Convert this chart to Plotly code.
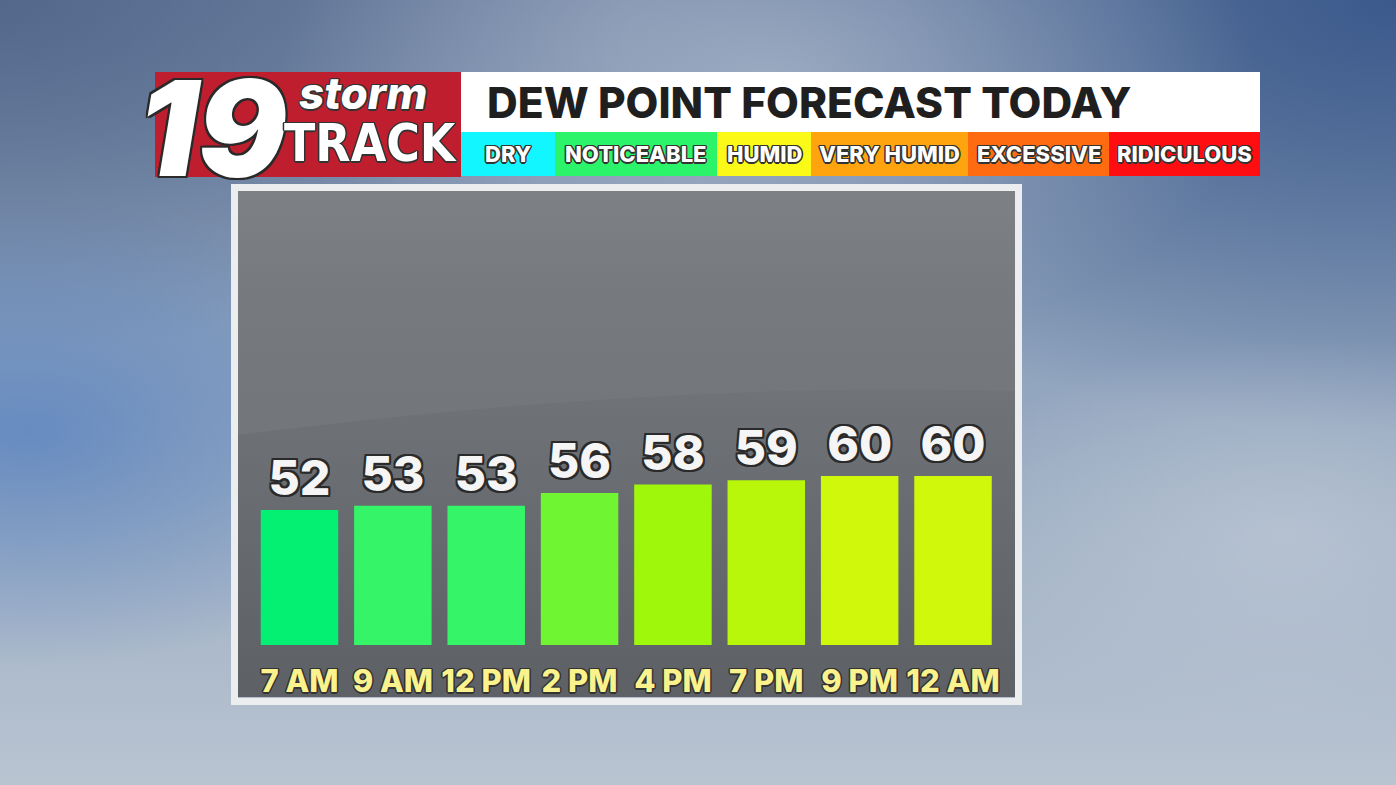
import base64
import plotly.graph_objects as go

W, H = 1396, 785

# data
TIMES = ["7 AM", "9 AM", "12 PM", "2 PM", "4 PM", "7 PM", "9 PM", "12 AM"]
DEW_POINTS = [52, 53, 53, 56, 58, 59, 60, 60]
CATEGORIES = ["DRY", "NOTICEABLE", "HUMID", "VERY HUMID", "EXCESSIVE", "RIDICULOUS"]

# styles
BAR_COLORS = ["#03f072", "#35f468", "#35f468", "#70f533", "#9ff80c", "#b9f70a", "#cff80a", "#cff80a"]
CAT_COLORS = ["#12f7ff", "#2bf36a", "#fbf917", "#ffa40e", "#ff6b10", "#ff0d10"]
CAT_EDGES = [461, 555, 717, 811, 968, 1109, 1260]

OUTLINE = ("-2px -2px 0 #2a2a2a, 2px -2px 0 #2a2a2a, -2px 2px 0 #2a2a2a, "
           "2px 2px 0 #2a2a2a, 0 2px 0 #2a2a2a, 0 -2px 0 #2a2a2a, 2px 0 0 #2a2a2a, -2px 0 0 #2a2a2a")
THIN = ("-1px -1px 0 #333, 1px -1px 0 #333, -1px 1px 0 #333, 1px 1px 0 #333, "
        "0 1.5px 0 #333, 0 -1.5px 0 #333, 1.5px 0 0 #333, -1.5px 0 0 #333")


def px(x):
    return x / W


def py(y):
    return 1 - y / H


def svg_uri(svg):
    return "data:image/svg+xml;base64," + base64.b64encode(svg.encode()).decode()


sky = """<svg xmlns='http://www.w3.org/2000/svg' width='1396' height='785' viewBox='0 0 1396 785' preserveAspectRatio='none'>
<defs>
<linearGradient id='v' x1='0' y1='0' x2='0' y2='1'>
<stop offset='0' stop-color='#7386a6'/><stop offset='0.45' stop-color='#8fa3bd'/><stop offset='1' stop-color='#b9c4d1'/>
</linearGradient>
<radialGradient id='tr' cx='1' cy='0' r='0.55'>
<stop offset='0' stop-color='#3b5a8c' stop-opacity='1'/><stop offset='1' stop-color='#3b5a8c' stop-opacity='0'/>
</radialGradient>
<radialGradient id='tl' cx='0' cy='0' r='0.45'>
<stop offset='0' stop-color='#4f6488' stop-opacity='0.9'/><stop offset='1' stop-color='#4f6488' stop-opacity='0'/>
</radialGradient>
<radialGradient id='l' cx='0.02' cy='0.55' r='0.3'>
<stop offset='0' stop-color='#5b84c0' stop-opacity='0.8'/><stop offset='1' stop-color='#5b84c0' stop-opacity='0'/>
</radialGradient>
<radialGradient id='c' cx='0.55' cy='0.1' r='0.35'>
<stop offset='0' stop-color='#a5b3c7' stop-opacity='0.8'/><stop offset='1' stop-color='#a5b3c7' stop-opacity='0'/>
</radialGradient>
<radialGradient id='r' cx='0.92' cy='0.68' r='0.25'>
<stop offset='0' stop-color='#c3ccd8' stop-opacity='0.6'/><stop offset='1' stop-color='#c3ccd8' stop-opacity='0'/>
</radialGradient>
</defs>
<rect width='1396' height='785' fill='url(#v)'/>
<rect width='1396' height='785' fill='url(#tr)'/>
<rect width='1396' height='785' fill='url(#tl)'/>
<rect width='1396' height='785' fill='url(#l)'/>
<rect width='1396' height='785' fill='url(#c)'/>
<rect width='1396' height='785' fill='url(#r)'/>
</svg>"""

panel = """<svg xmlns='http://www.w3.org/2000/svg' width='777' height='506' viewBox='0 0 777 506' preserveAspectRatio='none'>
<defs>
<linearGradient id='g' x1='0' y1='0' x2='0' y2='1'>
<stop offset='0' stop-color='#7d8185'/><stop offset='0.5' stop-color='#6c7074'/><stop offset='1' stop-color='#5d6166'/>
</linearGradient>
<linearGradient id='a' x1='0' y1='0' x2='0' y2='1'>
<stop offset='0' stop-color='#7f8387' stop-opacity='0'/><stop offset='1' stop-color='#7f8387' stop-opacity='0.35'/>
</linearGradient>
</defs>
<rect width='777' height='506' fill='url(#g)'/>
<path d='M0 120 L777 80 L777 200 Q 420 190 0 244 Z' fill='url(#a)'/>
</svg>"""

fig = go.Figure()
fig.add_trace(
    go.Bar(
        x=TIMES,
        y=DEW_POINTS,
        marker=dict(color=BAR_COLORS, line=dict(width=0)),
        text=DEW_POINTS,
        texttemplate="%{text}",
        textposition="outside",
        constraintext="none",
        cliponaxis=False,
        textfont=dict(family="Inter", size=48, color="#f5f5f5", weight=800, shadow=OUTLINE),
        hoverinfo="skip",
    )
)

shapes = []
# panel border
shapes.append(dict(type="rect", xref="paper", yref="paper", x0=px(234.5), x1=px(1018.5),
                   y0=py(701.5), y1=py(187.5), line=dict(color="#ecedef", width=7), layer="below"))
# logo box
shapes.append(dict(type="rect", xref="paper", yref="paper", x0=px(155), x1=px(461),
                   y0=py(177), y1=py(72), fillcolor="#be1e2d", line=dict(width=0), layer="below"))
# title box
shapes.append(dict(type="rect", xref="paper", yref="paper", x0=px(461), x1=px(1260),
                   y0=py(132), y1=py(72), fillcolor="#ffffff", line=dict(width=0), layer="below"))

annotations = []
for i, (cat, col) in enumerate(zip(CATEGORIES, CAT_COLORS)):
    x0, x1 = CAT_EDGES[i], CAT_EDGES[i + 1]
    shapes.append(dict(type="rect", xref="paper", yref="paper", x0=px(x0), x1=px(x1),
                       y0=py(176), y1=py(132), fillcolor=col, line=dict(width=0), layer="below"))
    annotations.append(dict(text=cat, xref="paper", yref="paper", x=px((x0 + x1) / 2), y=py(154),
                            xanchor="center", yanchor="middle", showarrow=False,
                            font=dict(family="Inter", size=22, color="#ffffff", weight=800, shadow=THIN)))

annotations.append(dict(text="DEW POINT FORECAST TODAY", xref="paper", yref="paper",
                        x=px(485), y=py(103), xanchor="left", yanchor="middle", showarrow=False,
                        font=dict(family="Inter", size=42.5, color="#1f1f1f", weight=800)))
annotations.append(dict(text="19", xref="paper", yref="paper", x=px(136), y=py(128),
                        xanchor="left", yanchor="middle", showarrow=False,
                        font=dict(family="Inter", size=132, color="#ffffff", weight=900,
                                  style="italic", shadow=OUTLINE)))
annotations.append(dict(text="storm", xref="paper", yref="paper", x=px(429), y=py(93),
                        xanchor="right", yanchor="middle", showarrow=False,
                        font=dict(family="Inter", size=44, color="#ffffff", weight=800,
                                  style="italic", shadow=THIN)))
annotations.append(dict(text="TRACK", xref="paper", yref="paper", x=px(459), y=py(144),
                        xanchor="right", yanchor="middle", showarrow=False,
                        font=dict(family="Liberation Sans Narrow, DejaVu Sans Condensed, sans-serif",
                                  size=51, color="#ffffff", weight=700, shadow=THIN)))

fig.update_layout(
    width=W,
    height=H,
    margin=dict(l=0, r=0, t=0, b=0),
    paper_bgcolor="#8fa3bd",
    plot_bgcolor="rgba(0,0,0,0)",
    showlegend=False,
    bargap=0.17,
    shapes=shapes,
    annotations=annotations,
    images=[
        dict(source=svg_uri(sky), xref="paper", yref="paper", x=0, y=1, sizex=1, sizey=1,
             sizing="stretch", xanchor="left", yanchor="top", layer="below"),
        dict(source=svg_uri(panel), xref="paper", yref="paper", x=px(238), y=py(191),
             sizex=px(1015) - px(238), sizey=py(191) - py(697),
             sizing="stretch", xanchor="left", yanchor="top", layer="below"),
    ],
)
fig.update_xaxes(
    domain=[px(252.8), px(999.7)],
    showgrid=False,
    zeroline=False,
    showline=False,
    ticks="",
    ticklabelstandoff=15,
    tickfont=dict(family="Inter", size=31, color="#faf28c", weight=800, shadow=THIN),
)
fig.update_yaxes(
    domain=[py(645), py(191)],
    range=[20.24, 127.06],
    visible=False,
    showgrid=False,
    zeroline=False,
)

fig.write_html("out.html", config={"displayModeBar": False},
               post_script="document.body.style.margin='0';")
